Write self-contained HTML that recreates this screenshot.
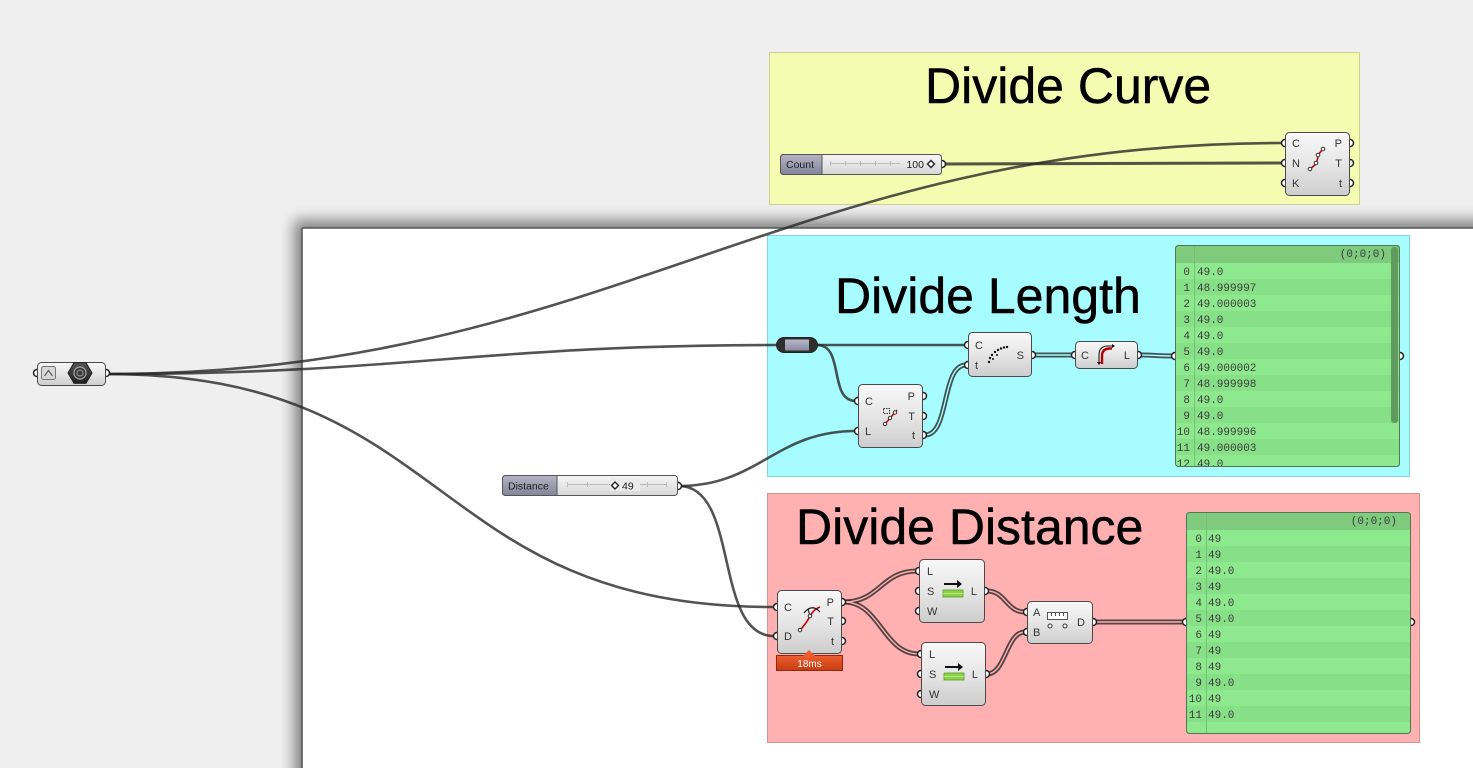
<!DOCTYPE html>
<html><head><meta charset="utf-8">
<style>
html,body{margin:0;padding:0;width:1473px;height:768px;overflow:hidden;background:#efefef;}
svg{display:block;}
text{font-family:"Liberation Sans",Arial,sans-serif;}
.lb{font-size:11px;fill:#333;}
text.mono,.mono text{font-family:"Liberation Mono","DejaVu Sans Mono",monospace;font-size:11px;fill:#3c3c3c;}
.title{font-size:50px;fill:#000;stroke:#000;stroke-width:0.5px;}
.w{fill:none;stroke:rgba(40,40,40,0.8);stroke-width:2.6;}
.lo{fill:none;stroke:rgba(40,40,40,0.8);stroke-width:5;}
.comp{fill:url(#cg);stroke:#4a4a4a;stroke-width:1;}
.grip{fill:#fff;stroke:#222;stroke-width:1.5;}
</style></head><body>
<svg width="1473" height="768" viewBox="0 0 1473 768">
<defs>
<linearGradient id="cg" x1="0" y1="0" x2="0" y2="1"><stop offset="0" stop-color="#f8f8f8"/><stop offset="0.5" stop-color="#e6e6e6"/><stop offset="1" stop-color="#cdcdcd"/></linearGradient>
<linearGradient id="sg" x1="0" y1="0" x2="0" y2="1"><stop offset="0" stop-color="#b4b4c4"/><stop offset="1" stop-color="#85859a"/></linearGradient>
<linearGradient id="vg" x1="0" y1="0" x2="0" y2="1"><stop offset="0" stop-color="#f6f6f6"/><stop offset="1" stop-color="#d6d6d6"/></linearGradient>
<linearGradient id="pg" x1="0" y1="0" x2="0" y2="1"><stop offset="0" stop-color="#b8b8cc"/><stop offset="1" stop-color="#8a8aa0"/></linearGradient>
<linearGradient id="tg" x1="0" y1="0" x2="0" y2="1"><stop offset="0" stop-color="#ee5e30"/><stop offset="1" stop-color="#c63c12"/></linearGradient>
<linearGradient id="ng" x1="0" y1="0" x2="0" y2="1"><stop offset="0" stop-color="#555"/><stop offset="1" stop-color="#1e1e1e"/></linearGradient>
<filter id="blur" x="-10%" y="-10%" width="120%" height="120%"><feGaussianBlur stdDeviation="7"/></filter>
<clipPath id="p1c"><rect x="1175" y="245" width="225" height="222" rx="3"/></clipPath>
<clipPath id="p2c"><rect x="1186" y="512" width="225" height="222" rx="3"/></clipPath>
</defs>

<!-- canvas shadow + canvas -->
<rect x="294" y="220" width="1200" height="570" fill="#000" opacity="0.45" filter="url(#blur)"/>
<rect x="302" y="228" width="1171" height="540" fill="#fff"/>
<line x1="302" y1="228" x2="1473" y2="228" stroke="#555" stroke-width="1.6"/>
<line x1="302" y1="228" x2="302" y2="768" stroke="#555" stroke-width="1.6"/>

<!-- groups -->
<rect x="769.5" y="52.5" width="590" height="152" fill="#f3fcb0" stroke="#c9d092" stroke-width="1"/>
<text class="title" x="925" y="103">Divide Curve</text>
<rect x="767.5" y="235.5" width="642" height="241" fill="#a6fcff" stroke="#86d4d8" stroke-width="1"/>
<text class="title" x="835" y="313">Divide Length</text>
<rect x="767.5" y="493.5" width="652" height="249" fill="#ffb0b0" stroke="#d49494" stroke-width="1"/>
<text class="title" x="796" y="544">Divide Distance</text>

<!-- single wires -->
<path class="w" d="M107,374 C607,374 783,143 1283,143"/>
<path class="w" d="M107,374 C407,374 476,345 776,345"/>
<path class="w" d="M107,374 C457,374 424,607 774,607"/>
<path class="w" d="M943,164 L1283,163" style="stroke-width:3"/>
<path class="w" d="M679,486 C759,486 775,431 856,431"/>
<path class="w" d="M679,486 C740,486 713,636 774,636"/>
<path class="w" d="M817,345 L966,345"/>
<path class="w" d="M817,345 C845,345 828,401 856,401"/>

<!-- list wires (blue) -->
<g>
<path class="lo" d="M925,435 C950,435 941,365 966,365"/>
<path class="lo" d="M1034,355 L1073,355"/>
<path class="lo" d="M1139,355 C1155,355 1157,356 1173,356"/>
<g fill="none" stroke="#a6fcff" stroke-width="1.4">
<path d="M925,435 C950,435 941,365 966,365"/>
<path d="M1034,355 L1073,355"/>
<path d="M1139,355 C1155,355 1157,356 1173,356"/>
</g>
</g>
<!-- list wires (red) -->
<g>
<path class="lo" d="M844,602 C880,602 881,571 917,571"/>
<path class="lo" d="M844,602 C880,602 883,654 919,654"/>
<path class="lo" d="M987,591 C1006,591 1006,612 1025,612"/>
<path class="lo" d="M987,674 C1006,674 1006,632 1025,632"/>
<path class="lo" d="M1095,622 L1183,622"/>
<g fill="none" stroke="#ffb0b0" stroke-width="1.4">
<path d="M844,602 C880,602 881,571 917,571"/>
<path d="M844,602 C880,602 883,654 919,654"/>
<path d="M987,591 C1006,591 1006,612 1025,612"/>
<path d="M987,674 C1006,674 1006,632 1025,632"/>
<path d="M1095,622 L1183,622"/>
</g>
</g>

<!-- LEFT COMPONENT -->
<circle class="grip" cx="37" cy="373" r="3.5"/>
<circle class="grip" cx="106" cy="373" r="3.5"/>
<rect class="comp" x="37.5" y="362.5" width="68" height="23" rx="4"/>
<rect x="41.5" y="366.5" width="14" height="13" rx="2" fill="#d8d8d8" stroke="#777"/>
<path d="M44.5,376 L48.5,370.5 L52.5,376" fill="none" stroke="#666" stroke-width="1.3"/>
<polygon points="92,373 86,383.4 74,383.4 68,373 74,362.6 86,362.6" fill="url(#ng)" stroke="#222"/>
<circle cx="80" cy="373" r="6" fill="#3a3a3a" stroke="#aaa" stroke-width="1.2"/>
<circle cx="80" cy="373" r="3" fill="none" stroke="#999" stroke-width="1"/>

<!-- COUNT SLIDER -->
<circle class="grip" cx="942" cy="164" r="3.5"/>
<rect x="780.5" y="154.5" width="161" height="20" rx="3" fill="url(#vg)" stroke="#555"/>
<path d="M780.5,157.5 a3,3 0 0 1 3,-3 H822 V174.5 H783.5 a3,3 0 0 1 -3,-3 Z" fill="url(#sg)" stroke="#555"/>
<text x="786" y="168" style="font-size:10.5px;fill:#222">Count</text>
<line x1="830" y1="163.5" x2="900" y2="163.5" stroke="#bbb"/>
<g stroke="#bbb"><line x1="830.5" y1="161" x2="830.5" y2="166"/><line x1="845.5" y1="161" x2="845.5" y2="166"/><line x1="860.5" y1="161" x2="860.5" y2="166"/><line x1="875.5" y1="161" x2="875.5" y2="166"/><line x1="890.5" y1="161" x2="890.5" y2="166"/></g>
<text x="924" y="168" text-anchor="end" style="font-size:10.5px;fill:#222">100</text>
<polygon points="931,160.5 934.5,164 931,167.5 927.5,164" fill="#fff" stroke="#222" stroke-width="1.4"/>

<!-- DIVIDE CURVE COMPONENT -->
<g>
<circle class="grip" cx="1285" cy="143" r="3.5"/><circle class="grip" cx="1285" cy="163" r="3.5"/><circle class="grip" cx="1285" cy="183" r="3.5"/>
<circle class="grip" cx="1350" cy="143" r="3.5"/><circle class="grip" cx="1350" cy="163" r="3.5"/><circle class="grip" cx="1350" cy="183" r="3.5"/>
<rect class="comp" x="1285.5" y="132.5" width="64" height="63" rx="4"/>
<text class="lb" x="1292" y="147">C</text><text class="lb" x="1292" y="167">N</text><text class="lb" x="1292" y="187">K</text>
<text class="lb" x="1342" y="147" text-anchor="end">P</text><text class="lb" x="1342" y="167" text-anchor="end">T</text><text class="lb" x="1342" y="187" text-anchor="end">t</text>
<path d="M1310,169 L1315,165 Q1318,160 1318,155 L1323,149" fill="none" stroke="#c00" stroke-width="1.6"/>
<g fill="#fff" stroke="#333" stroke-width="1"><circle cx="1310" cy="169" r="1.8"/><circle cx="1316" cy="163" r="1.8"/><circle cx="1318" cy="155" r="1.8"/><circle cx="1323" cy="149" r="1.8"/></g>
</g>

<!-- PILL PARAM -->
<rect x="776.5" y="337.5" width="41" height="15" rx="7.5" fill="#2e2e2e" stroke="#222"/>
<rect x="785" y="339.5" width="24" height="11" fill="url(#pg)"/>

<!-- DIVIDE LENGTH COMPONENT -->
<g>
<circle class="grip" cx="858" cy="401" r="3.5"/><circle class="grip" cx="858" cy="431" r="3.5"/>
<circle class="grip" cx="923" cy="396" r="3.5"/><circle class="grip" cx="923" cy="416" r="3.5"/><circle class="grip" cx="923" cy="435" r="3.5"/>
<rect class="comp" x="858.5" y="384.5" width="64" height="63" rx="4"/>
<text class="lb" x="865" y="405">C</text><text class="lb" x="865" y="435">L</text>
<text class="lb" x="915" y="400" text-anchor="end">P</text><text class="lb" x="915" y="420" text-anchor="end">T</text><text class="lb" x="915" y="439" text-anchor="end">t</text>
<rect x="883.5" y="408.5" width="6" height="5" fill="none" stroke="#333" stroke-dasharray="1.5,1"/>
<path d="M885,424 L897,410" stroke="#c00" stroke-width="1.5"/>
<g fill="#fff" stroke="#333" stroke-width="1"><circle cx="885" cy="424" r="1.7"/><circle cx="890" cy="418" r="1.7"/><circle cx="895" cy="412.5" r="1.7"/></g>
</g>

<!-- SHATTER COMPONENT -->
<g>
<circle class="grip" cx="968" cy="345" r="3.5"/><circle class="grip" cx="968" cy="365" r="3.5"/>
<circle class="grip" cx="1032" cy="355" r="3.5"/>
<rect class="comp" x="968.5" y="332.5" width="63" height="44" rx="4"/>
<text class="lb" x="975" y="349">C</text><text class="lb" x="975" y="369">t</text>
<text class="lb" x="1024" y="359" text-anchor="end">S</text>
<g fill="#111"><circle cx="989" cy="362" r="1.2"/><circle cx="990" cy="358" r="1.2"/><circle cx="992" cy="355" r="1.2"/><circle cx="995" cy="352" r="1.2"/><circle cx="998" cy="350" r="1.2"/><circle cx="1001" cy="348.5" r="1.2"/><circle cx="1004" cy="347.5" r="1.2"/><circle cx="1007" cy="347" r="1.2"/><circle cx="993" cy="359" r="1"/><circle cx="997" cy="355" r="1"/></g>
</g>

<!-- LENGTH COMPONENT -->
<g>
<circle class="grip" cx="1075" cy="355" r="3.5"/><circle class="grip" cx="1138" cy="355" r="3.5"/>
<rect class="comp" x="1075.5" y="341.5" width="62" height="27" rx="4"/>
<text class="lb" x="1081" y="359">C</text><text class="lb" x="1130" y="359" text-anchor="end">L</text>
<path d="M1102,364 L1102,356 Q1102,348.5 1110,348.5 L1112,348.5" fill="none" stroke="#b00" stroke-width="2.4"/>
<path d="M1099,363 L1099,355 Q1099,346 1108,346 L1112,346" fill="none" stroke="#111" stroke-width="1"/>
<polygon points="1112,344 1115,346 1112,348" fill="#111"/>
<polygon points="1097,362 1099,365 1101,362" fill="#111"/>
</g>

<!-- PANEL 1 -->
<circle class="grip" cx="1175" cy="356" r="3.5"/><circle class="grip" cx="1400" cy="356" r="3.5"/>
<g clip-path="url(#p1c)">
<rect x="1175" y="245" width="225" height="222" fill="#8ee88e"/>
<rect x="1175" y="245" width="225" height="18" fill="#7ecb7e"/>
<g fill="#87df87">
<rect x="1175" y="279" width="225" height="16"/><rect x="1175" y="311" width="225" height="16"/><rect x="1175" y="343" width="225" height="16"/><rect x="1175" y="375" width="225" height="16"/><rect x="1175" y="407" width="225" height="16"/><rect x="1175" y="439" width="225" height="16"/>
</g>
<line x1="1194.5" y1="245" x2="1194.5" y2="467" stroke="#76bf76"/>
<rect x="1391" y="247" width="7" height="176" rx="3" fill="#5f9a5f"/>
<text class="mono" x="1386" y="257" text-anchor="end">(0;0;0)</text>
<g class="mono" text-anchor="end">
<text x="1190" y="275">0</text><text x="1190" y="291">1</text><text x="1190" y="307">2</text><text x="1190" y="323">3</text><text x="1190" y="339">4</text><text x="1190" y="355">5</text><text x="1190" y="371">6</text><text x="1190" y="387">7</text><text x="1190" y="403">8</text><text x="1190" y="419">9</text><text x="1190" y="435">10</text><text x="1190" y="451">11</text><text x="1190" y="467">12</text>
</g>
<g class="mono">
<text x="1197" y="275">49.0</text><text x="1197" y="291">48.999997</text><text x="1197" y="307">49.000003</text><text x="1197" y="323">49.0</text><text x="1197" y="339">49.0</text><text x="1197" y="355">49.0</text><text x="1197" y="371">49.000002</text><text x="1197" y="387">48.999998</text><text x="1197" y="403">49.0</text><text x="1197" y="419">49.0</text><text x="1197" y="435">48.999996</text><text x="1197" y="451">49.000003</text><text x="1197" y="467">49.0</text>
</g>
</g>
<rect x="1175.5" y="245.5" width="224" height="221" rx="3" fill="none" stroke="#557555"/>

<!-- DISTANCE SLIDER -->
<circle class="grip" cx="678" cy="486" r="3.5"/>
<rect x="502.5" y="475.5" width="175" height="20" rx="3" fill="url(#vg)" stroke="#555"/>
<path d="M502.5,478.5 a3,3 0 0 1 3,-3 H557 V495.5 H505.5 a3,3 0 0 1 -3,-3 Z" fill="url(#sg)" stroke="#555"/>
<text x="508" y="489.5" style="font-size:10.5px;fill:#222">Distance</text>
<line x1="567" y1="484.5" x2="667" y2="484.5" stroke="#bbb"/>
<g stroke="#bbb"><line x1="567.5" y1="482" x2="567.5" y2="487"/><line x1="587.5" y1="482" x2="587.5" y2="487"/><line x1="647.5" y1="482" x2="647.5" y2="487"/><line x1="666.5" y1="482" x2="666.5" y2="487"/></g>
<rect x="610" y="478" width="30" height="13" fill="#ececec"/>
<polygon points="615,482 618.5,485.5 615,489 611.5,485.5" fill="#fff" stroke="#222" stroke-width="1.4"/>
<text x="622" y="489.5" style="font-size:10.5px;fill:#222">49</text>

<!-- DIVIDE DISTANCE COMPONENT -->
<g>
<circle class="grip" cx="777" cy="607" r="3.5"/><circle class="grip" cx="777" cy="636" r="3.5"/>
<circle class="grip" cx="842" cy="602" r="3.5"/><circle class="grip" cx="842" cy="621" r="3.5"/><circle class="grip" cx="842" cy="641" r="3.5"/>
<rect class="comp" x="777.5" y="590.5" width="64" height="63" rx="4"/>
<text class="lb" x="784" y="611">C</text><text class="lb" x="784" y="640">D</text>
<text class="lb" x="834" y="606" text-anchor="end">P</text><text class="lb" x="834" y="625" text-anchor="end">T</text><text class="lb" x="834" y="645" text-anchor="end">t</text>
<path d="M800,630 Q806,624 810,616 Q814,609 820,607" fill="none" stroke="#c00" stroke-width="1.6"/>
<path d="M804,613 Q812,603 820,612" fill="none" stroke="#111" stroke-width="1.2"/>
<line x1="810" y1="616" x2="808" y2="609" stroke="#111" stroke-width="1"/>
<g fill="#fff" stroke="#333" stroke-width="1"><circle cx="800" cy="630" r="1.8"/><circle cx="810" cy="616" r="1.8"/></g>
</g>
<rect x="776.5" y="655.5" width="66" height="15" fill="url(#tg)" stroke="#8a2a0a"/>
<polygon points="803,656 809,650 815,656" fill="#ee5e30"/>
<text x="809.5" y="667" text-anchor="middle" style="font-size:10px;fill:#fff">18ms</text>

<!-- COMP 1 -->
<g>
<circle class="grip" cx="919" cy="571" r="3.5"/><circle class="grip" cx="919" cy="591" r="3.5"/><circle class="grip" cx="919" cy="611" r="3.5"/>
<circle class="grip" cx="985" cy="591" r="3.5"/>
<rect class="comp" x="919.5" y="559.5" width="65" height="63" rx="4"/>
<text class="lb" x="927" y="575">L</text><text class="lb" x="927" y="595">S</text><text class="lb" x="927" y="615">W</text>
<text class="lb" x="977" y="595" text-anchor="end">L</text>
<line x1="944" y1="584" x2="958" y2="584" stroke="#111" stroke-width="2"/>
<polygon points="957,580 962,584 957,588" fill="#111"/>
<rect x="943" y="590" width="20" height="7" fill="#8bd14a" stroke="#5a9a2a" stroke-width="0.8"/>
<line x1="943" y1="593.5" x2="963" y2="593.5" stroke="#b8ec78" stroke-width="1"/>
</g>
<!-- COMP 2 -->
<g>
<circle class="grip" cx="921" cy="654" r="3.5"/><circle class="grip" cx="921" cy="674" r="3.5"/><circle class="grip" cx="921" cy="694" r="3.5"/>
<circle class="grip" cx="986" cy="674" r="3.5"/>
<rect class="comp" x="921.5" y="642.5" width="64" height="63" rx="4"/>
<text class="lb" x="929" y="658">L</text><text class="lb" x="929" y="678">S</text><text class="lb" x="929" y="698">W</text>
<text class="lb" x="978" y="678" text-anchor="end">L</text>
<line x1="945" y1="667" x2="959" y2="667" stroke="#111" stroke-width="2"/>
<polygon points="958,663 963,667 958,671" fill="#111"/>
<rect x="944" y="673" width="20" height="7" fill="#8bd14a" stroke="#5a9a2a" stroke-width="0.8"/>
<line x1="944" y1="676.5" x2="964" y2="676.5" stroke="#b8ec78" stroke-width="1"/>
</g>

<!-- AB COMPONENT -->
<g>
<circle class="grip" cx="1027" cy="612" r="3.5"/><circle class="grip" cx="1027" cy="632" r="3.5"/>
<circle class="grip" cx="1093" cy="622" r="3.5"/>
<rect class="comp" x="1027.5" y="601.5" width="65" height="42" rx="4"/>
<text class="lb" x="1033" y="616">A</text><text class="lb" x="1033" y="636">B</text>
<text class="lb" x="1085" y="626" text-anchor="end">D</text>
<rect x="1047.5" y="612.5" width="20" height="7" fill="#fff" stroke="#555"/>
<g stroke="#555"><line x1="1051.5" y1="613" x2="1051.5" y2="616"/><line x1="1055.5" y1="613" x2="1055.5" y2="616"/><line x1="1059.5" y1="613" x2="1059.5" y2="616"/><line x1="1063.5" y1="613" x2="1063.5" y2="616"/></g>
<circle cx="1050" cy="626" r="2" fill="#fff" stroke="#333"/><circle cx="1065" cy="626" r="2" fill="#fff" stroke="#333"/>
</g>

<!-- PANEL 2 -->
<circle class="grip" cx="1186" cy="622" r="3.5"/><circle class="grip" cx="1411" cy="622" r="3.5"/>
<g clip-path="url(#p2c)">
<rect x="1186" y="512" width="225" height="222" fill="#8ee88e"/>
<rect x="1186" y="512" width="225" height="18" fill="#7ecb7e"/>
<g fill="#87df87">
<rect x="1186" y="546" width="225" height="16"/><rect x="1186" y="578" width="225" height="16"/><rect x="1186" y="610" width="225" height="16"/><rect x="1186" y="642" width="225" height="16"/><rect x="1186" y="674" width="225" height="16"/><rect x="1186" y="706" width="225" height="16"/>
</g>
<line x1="1206.5" y1="512" x2="1206.5" y2="734" stroke="#76bf76"/>
<text class="mono" x="1397" y="524" text-anchor="end">(0;0;0)</text>
<g class="mono" text-anchor="end">
<text x="1202" y="542">0</text><text x="1202" y="558">1</text><text x="1202" y="574">2</text><text x="1202" y="590">3</text><text x="1202" y="606">4</text><text x="1202" y="622">5</text><text x="1202" y="638">6</text><text x="1202" y="654">7</text><text x="1202" y="670">8</text><text x="1202" y="686">9</text><text x="1202" y="702">10</text><text x="1202" y="718">11</text>
</g>
<g class="mono">
<text x="1208" y="542">49</text><text x="1208" y="558">49</text><text x="1208" y="574">49.0</text><text x="1208" y="590">49</text><text x="1208" y="606">49.0</text><text x="1208" y="622">49.0</text><text x="1208" y="638">49</text><text x="1208" y="654">49</text><text x="1208" y="670">49</text><text x="1208" y="686">49.0</text><text x="1208" y="702">49</text><text x="1208" y="718">49.0</text>
</g>
</g>
<rect x="1186.5" y="512.5" width="224" height="221" rx="3" fill="none" stroke="#557555"/>
</svg>
</body></html>
